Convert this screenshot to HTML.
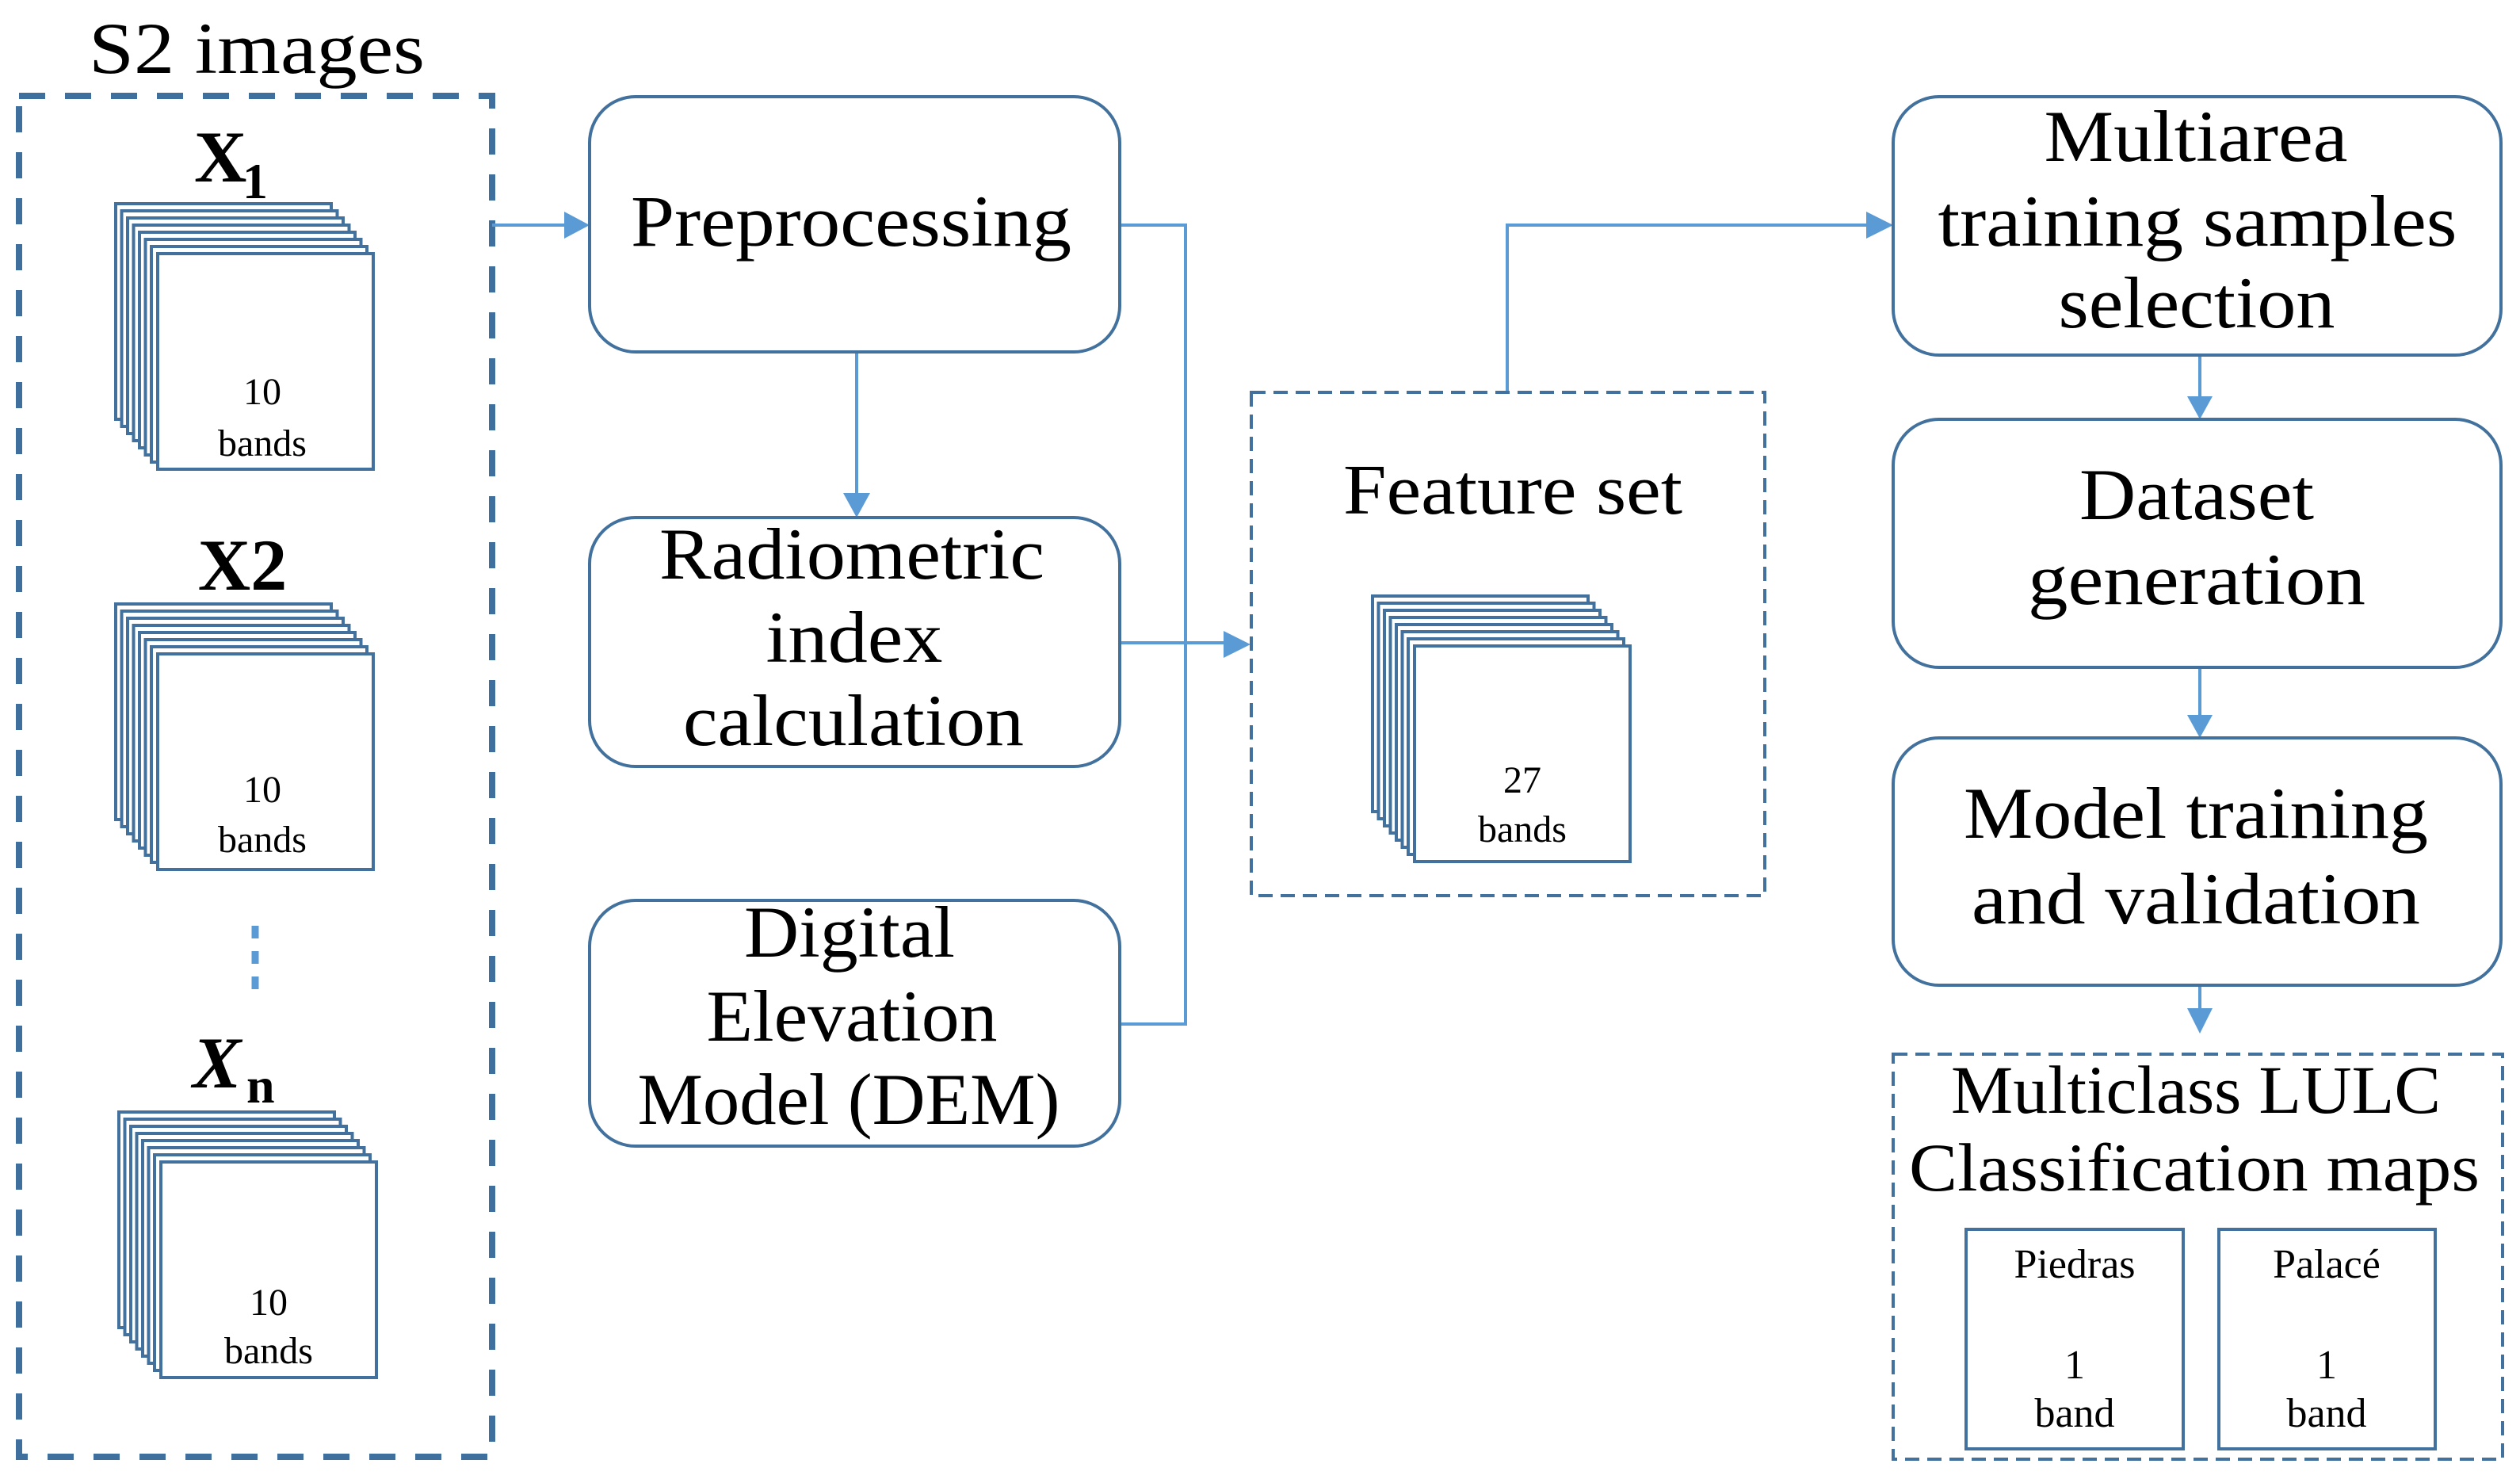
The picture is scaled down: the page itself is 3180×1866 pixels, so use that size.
<!DOCTYPE html>
<html><head><meta charset="utf-8"><style>
html,body{margin:0;padding:0;background:#fff;}
svg{display:block;font-family:"Liberation Serif","DejaVu Serif","Times New Roman",serif;}
svg text{font-family:"Liberation Serif","DejaVu Serif","Times New Roman",serif;fill:#000;}
</style></head><body>
<svg width="3180" height="1866" viewBox="0 0 3180 1866" xmlns="http://www.w3.org/2000/svg" font-family="Liberation Serif, DejaVu Serif, serif">
<defs>
<g id="stk">
<rect x="0" y="0" width="272" height="272" fill="#fff" stroke="#41719C" stroke-width="4"/>
<rect x="7.5" y="9" width="272" height="272" fill="#fff" stroke="#41719C" stroke-width="4"/>
<rect x="15" y="18" width="272" height="272" fill="#fff" stroke="#41719C" stroke-width="4"/>
<rect x="22.5" y="27" width="272" height="272" fill="#fff" stroke="#41719C" stroke-width="4"/>
<rect x="30" y="36" width="272" height="272" fill="#fff" stroke="#41719C" stroke-width="4"/>
<rect x="37.5" y="45" width="272" height="272" fill="#fff" stroke="#41719C" stroke-width="4"/>
<rect x="45" y="54" width="272" height="272" fill="#fff" stroke="#41719C" stroke-width="4"/>
<rect x="53" y="63" width="272" height="272" fill="#fff" stroke="#41719C" stroke-width="4"/>
</g>
</defs>
<rect width="3180" height="1866" fill="#fff"/>
<g font-family="Liberation Serif, DejaVu Serif, serif">
<!-- S2 images -->
<text x="324" y="92" font-size="92" text-anchor="middle" textLength="424" lengthAdjust="spacingAndGlyphs">S2 images</text>
<rect x="24" y="121" width="597" height="1717" fill="none" stroke="#3F6F9C" stroke-width="8" stroke-dasharray="33 25"/>

<text x="245" y="229" font-size="92" font-weight="bold">X</text>
<text x="306" y="250" font-size="64" font-weight="bold">1</text>
<use href="#stk" x="146" y="257"/>
<text x="331" y="510" font-size="48" text-anchor="middle">10</text>
<text x="331" y="575" font-size="48" text-anchor="middle">bands</text>

<text x="306" y="744" font-size="92" font-weight="bold" text-anchor="middle">X2</text>
<use href="#stk" x="146" y="762"/>
<text x="331" y="1012" font-size="48" text-anchor="middle">10</text>
<text x="331" y="1075" font-size="48" text-anchor="middle">bands</text>

<line x1="322" y1="1168" x2="322" y2="1248" stroke="#5B9BD5" stroke-width="9" stroke-dasharray="16 16"/>

<text x="243" y="1372" font-size="92" font-weight="bold" font-style="italic">X</text>
<text x="311" y="1391" font-size="64" font-weight="bold">n</text>
<use href="#stk" x="150" y="1403"/>
<text x="339" y="1659" font-size="48" text-anchor="middle">10</text>
<text x="339" y="1720" font-size="48" text-anchor="middle">bands</text>

<!-- connectors -->
<g stroke="#5B9BD5" stroke-width="4" fill="none">
<line x1="621" y1="284" x2="712" y2="284"/>
<line x1="1081" y1="444" x2="1081" y2="622"/>
<polyline points="1413,284 1496,284 1496,1292 1413,1292"/>
<line x1="1413" y1="811" x2="1546" y2="811"/>
<polyline points="1902,495 1902,284 2358,284"/>
<line x1="2776" y1="448" x2="2776" y2="500"/>
<line x1="2776" y1="842" x2="2776" y2="902"/>
<line x1="2776" y1="1243" x2="2776" y2="1280"/>
</g>
<g fill="#5B9BD5">
<polygon points="712,267 744,284 712,301"/>
<polygon points="1064,622 1081,653 1098,622"/>
<polygon points="1544,796 1578,813 1544,830"/>
<polygon points="2355,267 2389,284 2355,301"/>
<polygon points="2760,500 2776,529 2792,500"/>
<polygon points="2760,902 2776,931 2792,902"/>
<polygon points="2760,1272 2776,1304 2792,1272"/>
</g>

<g fill="#fff" stroke="#41719C" stroke-width="4">
<rect x="744" y="122" width="669" height="322" rx="58"/>
<rect x="744" y="653" width="669" height="314" rx="58"/>
<rect x="744" y="1136" width="669" height="310" rx="58"/>
<rect x="2389" y="122" width="767" height="326" rx="58"/>
<rect x="2389" y="529" width="767" height="313" rx="58"/>
<rect x="2389" y="931" width="767" height="312" rx="58"/>
</g>
<text x="1074" y="310" font-size="92" text-anchor="middle" textLength="556" lengthAdjust="spacingAndGlyphs">Preprocessing</text>
<text x="1075" y="730" font-size="92" text-anchor="middle" textLength="486" lengthAdjust="spacingAndGlyphs">Radiometric</text>
<text x="1078" y="835" font-size="92" text-anchor="middle" textLength="223" lengthAdjust="spacingAndGlyphs">index</text>
<text x="1077" y="940" font-size="92" text-anchor="middle" textLength="430" lengthAdjust="spacingAndGlyphs">calculation</text>
<text x="1072" y="1207" font-size="92" text-anchor="middle" textLength="266" lengthAdjust="spacingAndGlyphs">Digital</text>
<text x="1075" y="1313" font-size="92" text-anchor="middle" textLength="367" lengthAdjust="spacingAndGlyphs">Elevation</text>
<text x="1071" y="1418" font-size="92" text-anchor="middle" textLength="533" lengthAdjust="spacingAndGlyphs">Model (DEM)</text>

<rect x="1579" y="495" width="648" height="635" fill="none" stroke="#41719C" stroke-width="4" stroke-dasharray="18 10"/>
<text x="1909" y="648" font-size="90" text-anchor="middle" textLength="428" lengthAdjust="spacingAndGlyphs">Feature set</text>
<use href="#stk" x="1732" y="752"/>
<text x="1921" y="1000" font-size="48" text-anchor="middle">27</text>
<text x="1921" y="1062" font-size="48" text-anchor="middle">bands</text>

<text x="2771" y="203" font-size="92" text-anchor="middle" textLength="383" lengthAdjust="spacingAndGlyphs">Multiarea</text>
<text x="2773" y="310" font-size="92" text-anchor="middle" textLength="655" lengthAdjust="spacingAndGlyphs">training samples</text>
<text x="2772" y="413" font-size="92" text-anchor="middle" textLength="349" lengthAdjust="spacingAndGlyphs">selection</text>
<text x="2772" y="655" font-size="92" text-anchor="middle" textLength="296" lengthAdjust="spacingAndGlyphs">Dataset</text>
<text x="2772" y="762" font-size="92" text-anchor="middle" textLength="426" lengthAdjust="spacingAndGlyphs">generation</text>
<text x="2771" y="1057" font-size="92" text-anchor="middle" textLength="586" lengthAdjust="spacingAndGlyphs">Model training</text>
<text x="2771" y="1165" font-size="92" text-anchor="middle" textLength="566" lengthAdjust="spacingAndGlyphs">and validation</text>

<rect x="2389" y="1330" width="769" height="511" fill="none" stroke="#41719C" stroke-width="4" stroke-dasharray="18 10"/>
<text x="2771" y="1404" font-size="86" text-anchor="middle" textLength="618" lengthAdjust="spacingAndGlyphs">Multiclass LULC</text>
<text x="2769" y="1502" font-size="86" text-anchor="middle" textLength="720" lengthAdjust="spacingAndGlyphs">Classification maps</text>
<rect x="2481" y="1551" width="274" height="277" fill="#fff" stroke="#41719C" stroke-width="4"/>
<rect x="2800" y="1551" width="273" height="277" fill="#fff" stroke="#41719C" stroke-width="4"/>
<text x="2618" y="1612" font-size="52" text-anchor="middle">Piedras</text>
<text x="2618" y="1739" font-size="52" text-anchor="middle">1</text>
<text x="2618" y="1800" font-size="52" text-anchor="middle">band</text>
<text x="2936" y="1612" font-size="52" text-anchor="middle">Palacé</text>
<text x="2936" y="1739" font-size="52" text-anchor="middle">1</text>
<text x="2936" y="1800" font-size="52" text-anchor="middle">band</text>
</g>
</svg>
</body></html>
